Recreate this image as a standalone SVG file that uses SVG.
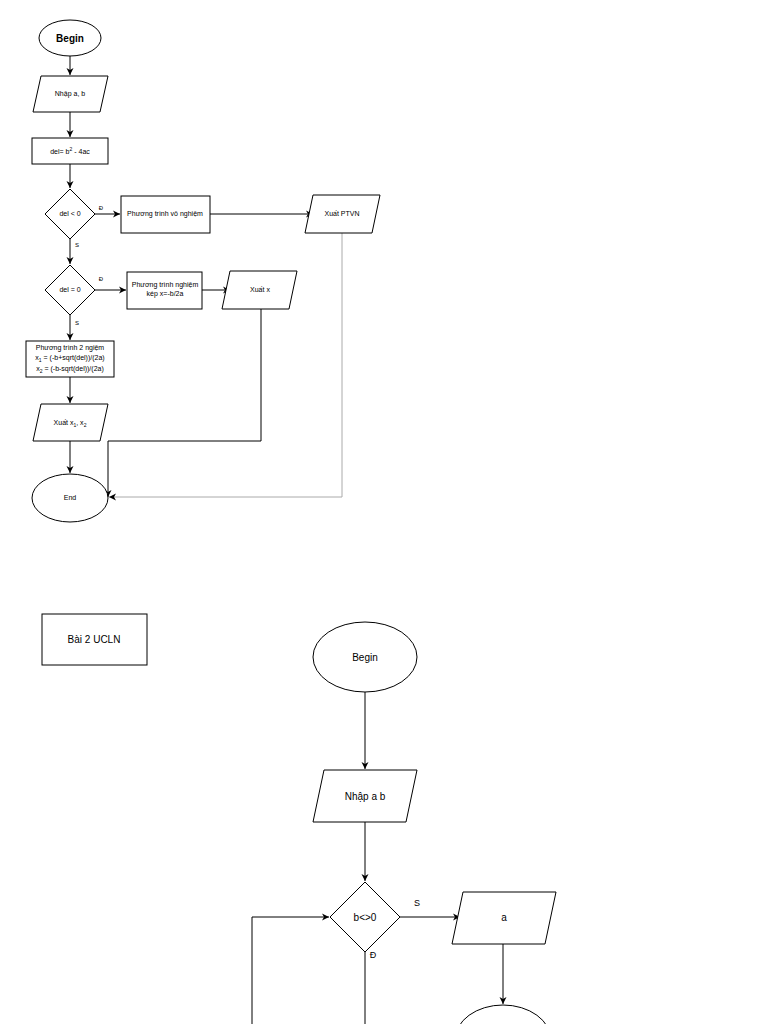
<svg xmlns="http://www.w3.org/2000/svg" width="768" height="1024" viewBox="0 0 768 1024">
<style>
.s{fill:#fff;stroke:#000;stroke-width:1}
.l{fill:none;stroke:#000;stroke-width:1}
.g{fill:none;stroke:#aaa;stroke-width:1}
text{font-family:"Liberation Sans",Arial,sans-serif;font-size:7px;text-anchor:middle;fill:#000}
.b{font-size:10px}
</style>
<defs><marker id="a" markerWidth="8" markerHeight="8" refX="7" refY="4" orient="auto" markerUnits="userSpaceOnUse"><path d="M0,0.5 L7,4 L0,7.5 L2,4 Z" fill="#000"/></marker></defs>
<rect width="768" height="1024" fill="#fff"/>
<g id="connectors">
<path class="l" d="M70,56V75" marker-end="url(#a)"/>
<path class="l" d="M70,112V137" marker-end="url(#a)"/>
<path class="l" d="M70,164V188" marker-end="url(#a)"/>
<path class="l" d="M95,214H120" marker-end="url(#a)"/>
<path class="l" d="M210,214H313" marker-end="url(#a)"/>
<path class="l" d="M70,239V264" marker-end="url(#a)"/>
<path class="l" d="M95,290H126" marker-end="url(#a)"/>
<path class="l" d="M202,290H230" marker-end="url(#a)"/>
<path class="l" d="M70,315V340" marker-end="url(#a)"/>
<path class="l" d="M70,377V403" marker-end="url(#a)"/>
<path class="l" d="M70,441V473" marker-end="url(#a)"/>
<path class="l" d="M261,309V441H108V497" marker-end="url(#a)"/>
<path class="g" d="M342,233V497H109" marker-end="url(#a)"/>
<path class="l" d="M365,692V769" marker-end="url(#a)"/>
<path class="l" d="M365,822V881" marker-end="url(#a)"/>
<path class="l" d="M400,917H460" marker-end="url(#a)"/>
<path class="l" d="M503,944V1004" marker-end="url(#a)"/>
<path class="l" d="M365,952V1024"/>
<path class="l" d="M252,1024V917H329" marker-end="url(#a)"/>
<text x="101" y="210" style="font-size:6px">Đ</text>
<text x="77" y="247" style="font-size:6px">S</text>
<text x="101" y="281" style="font-size:6px">Đ</text>
<text x="77" y="325" style="font-size:6px">S</text>
<text x="417" y="906" style="font-size:9px">S</text>
<text x="373" y="958" style="font-size:9px">Đ</text>
</g>
<g id="begin1"><ellipse class="s" cx="70" cy="38" rx="31" ry="18"/><text x="70" y="42" class="b" font-weight="bold">Begin</text></g>
<g id="input1"><polygon class="s" points="41,76 108,76 100,112 33,112"/><text x="70" y="96">Nhập a, b</text></g>
<g id="del"><rect class="s" x="32" y="138" width="76" height="26"/><text x="70" y="154">del= b<tspan dy="-3" font-size="5">2</tspan><tspan dy="3"> - 4ac</tspan></text></g>
<g id="d1"><polygon class="s" points="70,189 95,214 70,239 45,214"/><text x="70" y="216">del &lt; 0</text></g>
<g id="vn"><rect class="s" x="121" y="196" width="89" height="37"/><text x="165" y="216">Phương trình vô nghiệm</text></g>
<g id="ptvn"><polygon class="s" points="313,195 380,195 372,233 305,233"/><text x="342" y="216">Xuất PTVN</text></g>
<g id="d2"><polygon class="s" points="70,265 95,290 70,315 45,290"/><text x="70" y="292">del = 0</text></g>
<g id="kep"><rect class="s" x="127" y="272" width="75" height="37"/><text x="165" y="287">Phương trình nghiệm</text><text x="165" y="296">kép x=-b/2a</text></g>
<g id="xx"><polygon class="s" points="230,271 297,271 289,309 222,309"/><text x="260" y="292">Xuất x</text></g>
<g id="two"><rect class="s" x="26" y="341" width="88" height="36"/><text x="70" y="350">Phương trình 2 ngiệm</text><text x="70" y="360">x<tspan dy="2" font-size="5">1</tspan><tspan dy="-2"> = (-b+sqrt(del))/(2a)</tspan></text><text x="70" y="371">x<tspan dy="2" font-size="5">2</tspan><tspan dy="-2"> = (-b-sqrt(del))/(2a)</tspan></text></g>
<g id="x12"><polygon class="s" points="41,404 108,404 100,441 33,441"/><text x="70" y="425">Xuất x<tspan dy="2" font-size="5">1</tspan><tspan dy="-2">, x</tspan><tspan dy="2" font-size="5">2</tspan></text></g>
<g id="end1"><ellipse class="s" cx="70" cy="498" rx="38" ry="24"/><text x="70" y="500">End</text></g>
<g id="title"><rect class="s" x="42" y="614" width="105" height="51"/><text x="94" y="643" style="font-size:10px">Bài 2 UCLN</text></g>
<g id="begin2"><ellipse class="s" cx="365" cy="657" rx="52" ry="35"/><text x="365" y="661" style="font-size:10px">Begin</text></g>
<g id="input2"><polygon class="s" points="324,770 417,770 406,822 313,822"/><text x="365" y="800" style="font-size:10px">Nhập a b</text></g>
<g id="d3"><polygon class="s" points="365,882 400,917 365,952 330,917"/><text x="365" y="921" style="font-size:10px">b&lt;&gt;0</text></g>
<g id="outa"><polygon class="s" points="463,892 556,892 545,944 452,944"/><text x="504" y="921" style="font-size:10px">a</text></g>
<g id="end2"><ellipse class="s" cx="503" cy="1040" rx="48" ry="35"/></g>
</svg>
